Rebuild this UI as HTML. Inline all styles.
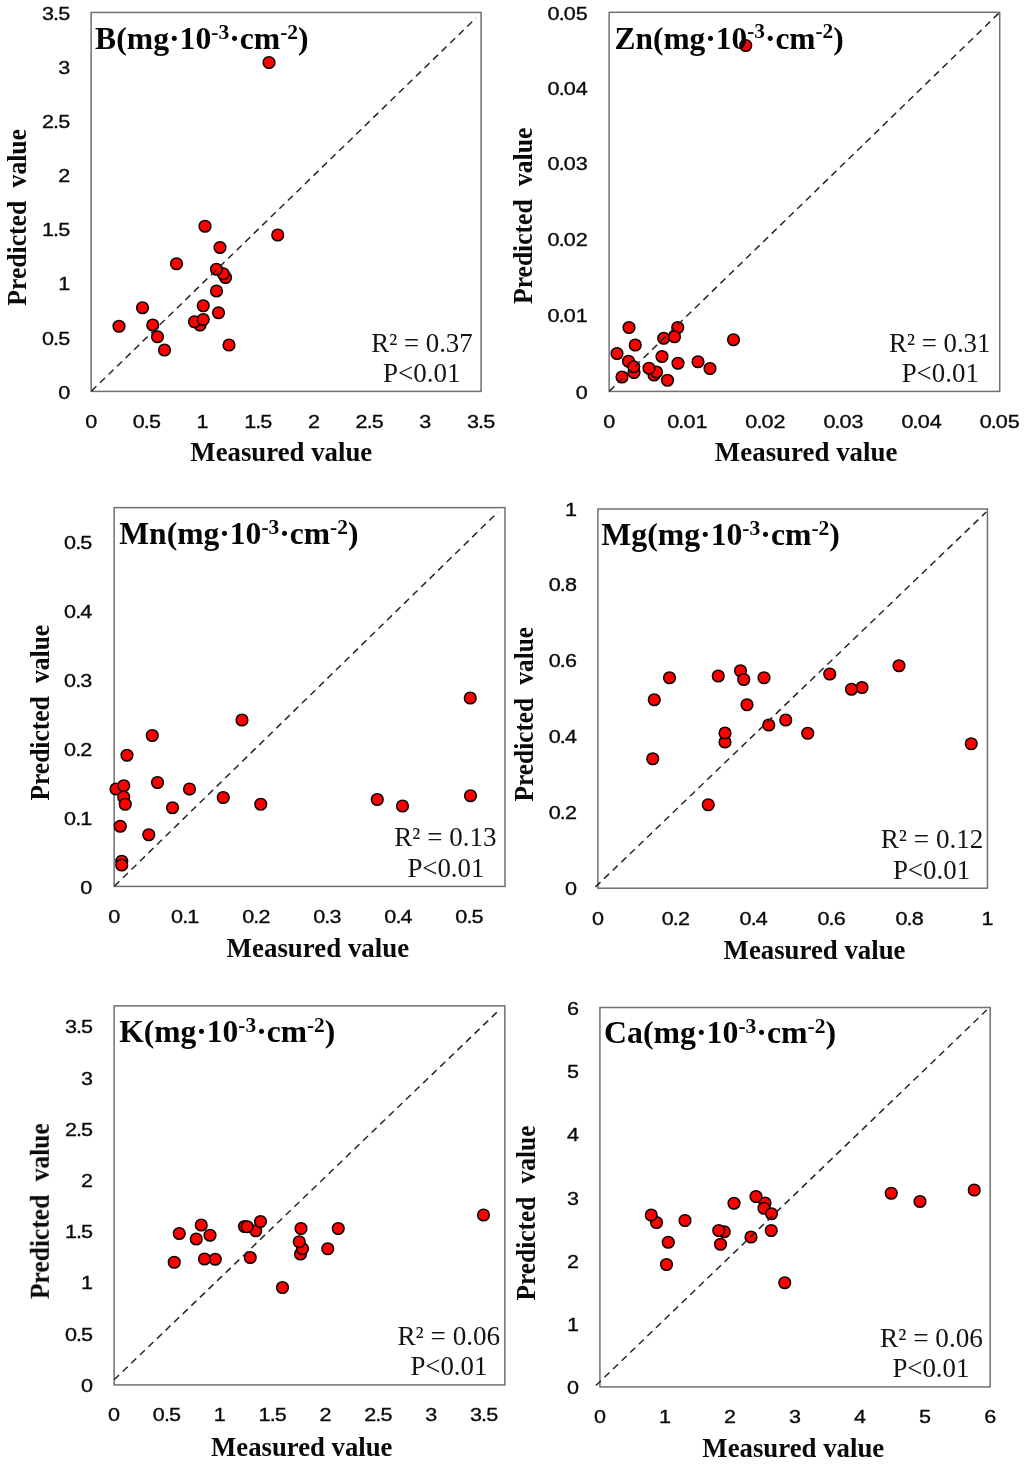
<!DOCTYPE html>
<html lang="en"><head><meta charset="utf-8"><title>Measured vs predicted element contents</title>
<style>html,body{margin:0;padding:0;background:#fff}svg{display:block}.tk{font-family:"Liberation Sans",Arial,Helvetica,sans-serif;font-size:18.3px;fill:#0a0a0a;stroke:#0a0a0a;stroke-width:0.32}.ax{font-family:"Liberation Serif","Times New Roman",Times,serif;font-weight:bold;font-size:27px;fill:#0a0a0a}.tt{font-family:"Liberation Serif","Times New Roman",Times,serif;font-weight:bold;font-size:31px;fill:#050505}.an{font-family:"Liberation Serif","Times New Roman",Times,serif;font-size:26.5px;fill:#141414}.bx{fill:none;stroke:#707070;stroke-width:1.5}.dg{stroke:#262626;stroke-width:1.5;stroke-dasharray:6.9 5.0;fill:none}.pt circle{fill:#ff0000;stroke:#0c0000;stroke-width:1.5}</style></head><body>
<svg width="1024" height="1465" viewBox="0 0 1024 1465">
<defs><filter id="soft" filterUnits="userSpaceOnUse" x="0" y="0" width="1024" height="1465" color-interpolation-filters="sRGB"><feGaussianBlur stdDeviation="0.42"/></filter></defs>
<rect x="0" y="0" width="1024" height="1465" fill="#ffffff"/>
<g filter="url(#soft)">
<g>
<rect class="bx" x="91.15" y="12.45" width="389.91" height="378.95"/>
<g class="pt">
<circle cx="269.00" cy="62.50" r="5.85"/>
<circle cx="205.00" cy="226.25" r="5.85"/>
<circle cx="277.75" cy="235.00" r="5.85"/>
<circle cx="220.00" cy="247.50" r="5.85"/>
<circle cx="176.50" cy="263.75" r="5.85"/>
<circle cx="225.50" cy="277.50" r="5.85"/>
<circle cx="223.25" cy="273.75" r="5.85"/>
<circle cx="216.50" cy="269.25" r="5.85"/>
<circle cx="216.50" cy="291.00" r="5.85"/>
<circle cx="142.50" cy="307.75" r="5.85"/>
<circle cx="203.25" cy="305.75" r="5.85"/>
<circle cx="218.50" cy="312.75" r="5.85"/>
<circle cx="119.00" cy="326.25" r="5.85"/>
<circle cx="152.75" cy="325.00" r="5.85"/>
<circle cx="200.00" cy="325.00" r="5.85"/>
<circle cx="194.50" cy="321.75" r="5.85"/>
<circle cx="203.25" cy="319.50" r="5.85"/>
<circle cx="157.50" cy="336.75" r="5.85"/>
<circle cx="164.50" cy="350.00" r="5.85"/>
<circle cx="229.00" cy="345.00" r="5.85"/>
</g>
<line class="dg" x1="91.45" y1="391.10" x2="476.00" y2="18.00"/>
<text class="tk" text-anchor="middle" transform="translate(91.15,427.60) scale(1.180,1)">0</text>
<text class="tk" text-anchor="end" transform="translate(70.15,398.70) scale(1.180,1)">0</text>
<text class="tk" text-anchor="middle" dx="0 -0.75 -0.75" transform="translate(146.85,427.60) scale(1.180,1)">0.5</text>
<text class="tk" text-anchor="end" dx="0 -0.75 -0.75" transform="translate(70.15,344.56) scale(1.180,1)">0.5</text>
<text class="tk" text-anchor="middle" transform="translate(202.55,427.60) scale(1.180,1)">1</text>
<text class="tk" text-anchor="end" transform="translate(70.15,290.43) scale(1.180,1)">1</text>
<text class="tk" text-anchor="middle" dx="0 -0.75 -0.75" transform="translate(258.25,427.60) scale(1.180,1)">1.5</text>
<text class="tk" text-anchor="end" dx="0 -0.75 -0.75" transform="translate(70.15,236.29) scale(1.180,1)">1.5</text>
<text class="tk" text-anchor="middle" transform="translate(313.96,427.60) scale(1.180,1)">2</text>
<text class="tk" text-anchor="end" transform="translate(70.15,182.16) scale(1.180,1)">2</text>
<text class="tk" text-anchor="middle" dx="0 -0.75 -0.75" transform="translate(369.66,427.60) scale(1.180,1)">2.5</text>
<text class="tk" text-anchor="end" dx="0 -0.75 -0.75" transform="translate(70.15,128.02) scale(1.180,1)">2.5</text>
<text class="tk" text-anchor="middle" transform="translate(425.36,427.60) scale(1.180,1)">3</text>
<text class="tk" text-anchor="end" transform="translate(70.15,73.89) scale(1.180,1)">3</text>
<text class="tk" text-anchor="middle" dx="0 -0.75 -0.75" transform="translate(481.06,427.60) scale(1.180,1)">3.5</text>
<text class="tk" text-anchor="end" dx="0 -0.75 -0.75" transform="translate(70.15,19.75) scale(1.180,1)">3.5</text>
<text class="tt" x="95.10" y="48.70" textLength="213.50" lengthAdjust="spacingAndGlyphs">B(mg·10<tspan dy="-10.2" font-size="21">-3</tspan><tspan dy="10.2">·cm</tspan><tspan dy="-10.2" font-size="21">-2</tspan><tspan dy="10.2">)</tspan></text>
<text class="ax" x="190.35" y="461.00" textLength="181.85" lengthAdjust="spacingAndGlyphs">Measured value</text>
<text class="ax" style="word-spacing:7.3px" transform="translate(26.40,305.70) rotate(-90)" textLength="176.70" lengthAdjust="spacingAndGlyphs">Predicted value</text>
<text class="an" x="371.25" y="351.65" textLength="101.45" lengthAdjust="spacingAndGlyphs">R² = 0.37</text>
<text class="an" x="382.90" y="381.65" textLength="77.50" lengthAdjust="spacingAndGlyphs">P&lt;0.01</text>
</g>
<g>
<rect class="bx" x="609.15" y="12.30" width="390.59" height="379.12"/>
<g class="pt">
<circle cx="745.75" cy="45.50" r="5.85"/>
<circle cx="629.00" cy="327.50" r="5.85"/>
<circle cx="677.75" cy="327.50" r="5.85"/>
<circle cx="663.75" cy="338.25" r="5.85"/>
<circle cx="674.50" cy="336.75" r="5.85"/>
<circle cx="635.25" cy="345.00" r="5.85"/>
<circle cx="733.50" cy="339.75" r="5.85"/>
<circle cx="617.00" cy="353.50" r="5.85"/>
<circle cx="662.00" cy="356.50" r="5.85"/>
<circle cx="628.50" cy="361.25" r="5.85"/>
<circle cx="678.00" cy="363.25" r="5.85"/>
<circle cx="698.00" cy="361.75" r="5.85"/>
<circle cx="710.00" cy="368.50" r="5.85"/>
<circle cx="634.00" cy="372.50" r="5.85"/>
<circle cx="633.75" cy="366.75" r="5.85"/>
<circle cx="654.00" cy="375.00" r="5.85"/>
<circle cx="656.50" cy="372.00" r="5.85"/>
<circle cx="649.00" cy="368.25" r="5.85"/>
<circle cx="622.00" cy="377.00" r="5.85"/>
<circle cx="667.50" cy="380.25" r="5.85"/>
</g>
<line class="dg" x1="609.45" y1="391.12" x2="999.00" y2="13.00"/>
<text class="tk" text-anchor="middle" transform="translate(609.15,427.62) scale(1.180,1)">0</text>
<text class="tk" text-anchor="end" transform="translate(587.75,398.72) scale(1.180,1)">0</text>
<text class="tk" text-anchor="middle" dx="0 -0.75 -0.75 0" transform="translate(687.27,427.62) scale(1.180,1)">0.01</text>
<text class="tk" text-anchor="end" dx="0 -0.75 -0.75 0" transform="translate(587.75,322.10) scale(1.180,1)">0.01</text>
<text class="tk" text-anchor="middle" dx="0 -0.75 -0.75 0" transform="translate(765.39,427.62) scale(1.180,1)">0.02</text>
<text class="tk" text-anchor="end" dx="0 -0.75 -0.75 0" transform="translate(587.75,246.27) scale(1.180,1)">0.02</text>
<text class="tk" text-anchor="middle" dx="0 -0.75 -0.75 0" transform="translate(843.50,427.62) scale(1.180,1)">0.03</text>
<text class="tk" text-anchor="end" dx="0 -0.75 -0.75 0" transform="translate(587.75,170.45) scale(1.180,1)">0.03</text>
<text class="tk" text-anchor="middle" dx="0 -0.75 -0.75 0" transform="translate(921.62,427.62) scale(1.180,1)">0.04</text>
<text class="tk" text-anchor="end" dx="0 -0.75 -0.75 0" transform="translate(587.75,94.62) scale(1.180,1)">0.04</text>
<text class="tk" text-anchor="middle" dx="0 -0.75 -0.75 0" transform="translate(999.74,427.62) scale(1.180,1)">0.05</text>
<text class="tk" text-anchor="end" dx="0 -0.75 -0.75 0" transform="translate(587.75,20.30) scale(1.180,1)">0.05</text>
<text class="tt" x="614.55" y="48.60" textLength="229.15" lengthAdjust="spacingAndGlyphs">Zn(mg·10<tspan dy="-10.2" font-size="21">-3</tspan><tspan dy="10.2">·cm</tspan><tspan dy="-10.2" font-size="21">-2</tspan><tspan dy="10.2">)</tspan></text>
<text class="ax" x="714.85" y="461.00" textLength="182.60" lengthAdjust="spacingAndGlyphs">Measured value</text>
<text class="ax" style="word-spacing:7.3px" transform="translate(532.30,304.00) rotate(-90)" textLength="176.30" lengthAdjust="spacingAndGlyphs">Predicted value</text>
<text class="an" x="889.00" y="351.65" textLength="101.45" lengthAdjust="spacingAndGlyphs">R² = 0.31</text>
<text class="an" x="901.65" y="381.65" textLength="77.25" lengthAdjust="spacingAndGlyphs">P&lt;0.01</text>
</g>
<g>
<rect class="bx" x="114.15" y="507.65" width="390.82" height="378.75"/>
<g class="pt">
<circle cx="242.00" cy="720.00" r="5.85"/>
<circle cx="152.25" cy="735.50" r="5.85"/>
<circle cx="127.00" cy="755.25" r="5.85"/>
<circle cx="116.00" cy="789.00" r="5.85"/>
<circle cx="123.75" cy="785.75" r="5.85"/>
<circle cx="157.50" cy="782.50" r="5.85"/>
<circle cx="189.50" cy="789.00" r="5.85"/>
<circle cx="223.25" cy="797.50" r="5.85"/>
<circle cx="260.75" cy="804.25" r="5.85"/>
<circle cx="123.75" cy="797.00" r="5.85"/>
<circle cx="125.25" cy="804.25" r="5.85"/>
<circle cx="172.50" cy="807.75" r="5.85"/>
<circle cx="120.25" cy="826.25" r="5.85"/>
<circle cx="148.75" cy="834.75" r="5.85"/>
<circle cx="121.75" cy="861.25" r="5.85"/>
<circle cx="121.75" cy="865.00" r="5.85"/>
<circle cx="377.25" cy="799.50" r="5.85"/>
<circle cx="402.50" cy="806.00" r="5.85"/>
<circle cx="470.50" cy="795.75" r="5.85"/>
<circle cx="470.25" cy="698.00" r="5.85"/>
</g>
<line class="dg" x1="114.45" y1="886.10" x2="498.00" y2="512.00"/>
<text class="tk" text-anchor="middle" transform="translate(114.15,922.60) scale(1.180,1)">0</text>
<text class="tk" text-anchor="end" transform="translate(92.35,893.70) scale(1.180,1)">0</text>
<text class="tk" text-anchor="middle" dx="0 -0.75 -0.75" transform="translate(185.21,922.60) scale(1.180,1)">0.1</text>
<text class="tk" text-anchor="end" dx="0 -0.75 -0.75" transform="translate(92.35,824.75) scale(1.180,1)">0.1</text>
<text class="tk" text-anchor="middle" dx="0 -0.75 -0.75" transform="translate(256.27,922.60) scale(1.180,1)">0.2</text>
<text class="tk" text-anchor="end" dx="0 -0.75 -0.75" transform="translate(92.35,755.80) scale(1.180,1)">0.2</text>
<text class="tk" text-anchor="middle" dx="0 -0.75 -0.75" transform="translate(327.32,922.60) scale(1.180,1)">0.3</text>
<text class="tk" text-anchor="end" dx="0 -0.75 -0.75" transform="translate(92.35,686.85) scale(1.180,1)">0.3</text>
<text class="tk" text-anchor="middle" dx="0 -0.75 -0.75" transform="translate(398.38,922.60) scale(1.180,1)">0.4</text>
<text class="tk" text-anchor="end" dx="0 -0.75 -0.75" transform="translate(92.35,617.89) scale(1.180,1)">0.4</text>
<text class="tk" text-anchor="middle" dx="0 -0.75 -0.75" transform="translate(469.44,922.60) scale(1.180,1)">0.5</text>
<text class="tk" text-anchor="end" dx="0 -0.75 -0.75" transform="translate(92.35,548.94) scale(1.180,1)">0.5</text>
<text class="tt" x="119.30" y="544.30" textLength="239.15" lengthAdjust="spacingAndGlyphs">Mn(mg·10<tspan dy="-10.2" font-size="21">-3</tspan><tspan dy="10.2">·cm</tspan><tspan dy="-10.2" font-size="21">-2</tspan><tspan dy="10.2">)</tspan></text>
<text class="ax" x="226.60" y="956.75" textLength="182.60" lengthAdjust="spacingAndGlyphs">Measured value</text>
<text class="ax" style="word-spacing:7.3px" transform="translate(48.80,800.60) rotate(-90)" textLength="175.80" lengthAdjust="spacingAndGlyphs">Predicted value</text>
<text class="an" x="394.25" y="846.15" textLength="102.20" lengthAdjust="spacingAndGlyphs">R² = 0.13</text>
<text class="an" x="407.40" y="876.65" textLength="77.00" lengthAdjust="spacingAndGlyphs">P&lt;0.01</text>
</g>
<g>
<rect class="bx" x="597.88" y="509.00" width="389.57" height="379.20"/>
<g class="pt">
<circle cx="669.50" cy="677.75" r="5.85"/>
<circle cx="718.25" cy="676.00" r="5.85"/>
<circle cx="740.50" cy="670.75" r="5.85"/>
<circle cx="743.75" cy="679.50" r="5.85"/>
<circle cx="764.00" cy="677.75" r="5.85"/>
<circle cx="829.75" cy="674.00" r="5.85"/>
<circle cx="862.00" cy="687.50" r="5.85"/>
<circle cx="851.50" cy="689.25" r="5.85"/>
<circle cx="899.00" cy="665.75" r="5.85"/>
<circle cx="654.25" cy="699.75" r="5.85"/>
<circle cx="747.00" cy="704.75" r="5.85"/>
<circle cx="768.75" cy="725.00" r="5.85"/>
<circle cx="785.75" cy="720.00" r="5.85"/>
<circle cx="807.75" cy="733.25" r="5.85"/>
<circle cx="725.00" cy="742.00" r="5.85"/>
<circle cx="725.00" cy="733.00" r="5.85"/>
<circle cx="652.75" cy="758.75" r="5.85"/>
<circle cx="708.25" cy="804.75" r="5.85"/>
<circle cx="971.25" cy="743.75" r="5.85"/>
</g>
<line class="dg" x1="595.50" y1="886.90" x2="986.25" y2="512.00"/>
<text class="tk" text-anchor="middle" transform="translate(597.88,924.90) scale(1.180,1)">0</text>
<text class="tk" text-anchor="end" transform="translate(576.88,894.80) scale(1.180,1)">0</text>
<text class="tk" text-anchor="middle" dx="0 -0.75 -0.75" transform="translate(675.79,924.90) scale(1.180,1)">0.2</text>
<text class="tk" text-anchor="end" dx="0 -0.75 -0.75" transform="translate(576.88,819.16) scale(1.180,1)">0.2</text>
<text class="tk" text-anchor="middle" dx="0 -0.75 -0.75" transform="translate(753.71,924.90) scale(1.180,1)">0.4</text>
<text class="tk" text-anchor="end" dx="0 -0.75 -0.75" transform="translate(576.88,743.22) scale(1.180,1)">0.4</text>
<text class="tk" text-anchor="middle" dx="0 -0.75 -0.75" transform="translate(831.62,924.90) scale(1.180,1)">0.6</text>
<text class="tk" text-anchor="end" dx="0 -0.75 -0.75" transform="translate(576.88,666.88) scale(1.180,1)">0.6</text>
<text class="tk" text-anchor="middle" dx="0 -0.75 -0.75" transform="translate(909.54,924.90) scale(1.180,1)">0.8</text>
<text class="tk" text-anchor="end" dx="0 -0.75 -0.75" transform="translate(576.88,591.24) scale(1.180,1)">0.8</text>
<text class="tk" text-anchor="middle" transform="translate(987.45,924.90) scale(1.180,1)">1</text>
<text class="tk" text-anchor="end" transform="translate(576.88,516.20) scale(1.180,1)">1</text>
<text class="tt" x="601.30" y="545.40" textLength="238.65" lengthAdjust="spacingAndGlyphs">Mg(mg·10<tspan dy="-10.2" font-size="21">-3</tspan><tspan dy="10.2">·cm</tspan><tspan dy="-10.2" font-size="21">-2</tspan><tspan dy="10.2">)</tspan></text>
<text class="ax" x="723.60" y="958.90" textLength="181.85" lengthAdjust="spacingAndGlyphs">Measured value</text>
<text class="ax" style="word-spacing:7.3px" transform="translate(532.80,801.40) rotate(-90)" textLength="174.40" lengthAdjust="spacingAndGlyphs">Predicted value</text>
<text class="an" x="880.75" y="848.40" textLength="102.70" lengthAdjust="spacingAndGlyphs">R² = 0.12</text>
<text class="an" x="892.90" y="878.65" textLength="77.25" lengthAdjust="spacingAndGlyphs">P&lt;0.01</text>
</g>
<g>
<rect class="bx" x="114.12" y="1005.90" width="390.73" height="379.00"/>
<g class="pt">
<circle cx="201.25" cy="1225.00" r="5.85"/>
<circle cx="179.25" cy="1233.50" r="5.85"/>
<circle cx="196.25" cy="1239.00" r="5.85"/>
<circle cx="210.00" cy="1235.25" r="5.85"/>
<circle cx="174.25" cy="1262.25" r="5.85"/>
<circle cx="215.25" cy="1259.25" r="5.85"/>
<circle cx="204.50" cy="1259.00" r="5.85"/>
<circle cx="255.75" cy="1230.75" r="5.85"/>
<circle cx="244.50" cy="1226.50" r="5.85"/>
<circle cx="247.25" cy="1226.75" r="5.85"/>
<circle cx="260.50" cy="1221.50" r="5.85"/>
<circle cx="250.25" cy="1257.50" r="5.85"/>
<circle cx="301.00" cy="1228.50" r="5.85"/>
<circle cx="338.25" cy="1228.50" r="5.85"/>
<circle cx="300.50" cy="1254.00" r="5.85"/>
<circle cx="302.50" cy="1248.75" r="5.85"/>
<circle cx="299.25" cy="1241.75" r="5.85"/>
<circle cx="327.75" cy="1248.75" r="5.85"/>
<circle cx="282.50" cy="1287.50" r="5.85"/>
<circle cx="483.50" cy="1215.00" r="5.85"/>
</g>
<line class="dg" x1="114.10" y1="1379.80" x2="499.75" y2="1009.50"/>
<text class="tk" text-anchor="middle" transform="translate(114.12,1420.70) scale(1.180,1)">0</text>
<text class="tk" text-anchor="end" transform="translate(93.12,1391.90) scale(1.180,1)">0</text>
<text class="tk" text-anchor="middle" dx="0 -0.75 -0.75" transform="translate(166.96,1420.70) scale(1.180,1)">0.5</text>
<text class="tk" text-anchor="end" dx="0 -0.75 -0.75" transform="translate(93.12,1340.68) scale(1.180,1)">0.5</text>
<text class="tk" text-anchor="middle" transform="translate(219.81,1420.70) scale(1.180,1)">1</text>
<text class="tk" text-anchor="end" transform="translate(93.12,1289.47) scale(1.180,1)">1</text>
<text class="tk" text-anchor="middle" dx="0 -0.75 -0.75" transform="translate(272.65,1420.70) scale(1.180,1)">1.5</text>
<text class="tk" text-anchor="end" dx="0 -0.75 -0.75" transform="translate(93.12,1238.25) scale(1.180,1)">1.5</text>
<text class="tk" text-anchor="middle" transform="translate(325.50,1420.70) scale(1.180,1)">2</text>
<text class="tk" text-anchor="end" transform="translate(93.12,1187.04) scale(1.180,1)">2</text>
<text class="tk" text-anchor="middle" dx="0 -0.75 -0.75" transform="translate(378.34,1420.70) scale(1.180,1)">2.5</text>
<text class="tk" text-anchor="end" dx="0 -0.75 -0.75" transform="translate(93.12,1135.82) scale(1.180,1)">2.5</text>
<text class="tk" text-anchor="middle" transform="translate(431.19,1420.70) scale(1.180,1)">3</text>
<text class="tk" text-anchor="end" transform="translate(93.12,1084.60) scale(1.180,1)">3</text>
<text class="tk" text-anchor="middle" dx="0 -0.75 -0.75" transform="translate(484.03,1420.70) scale(1.180,1)">3.5</text>
<text class="tk" text-anchor="end" dx="0 -0.75 -0.75" transform="translate(93.12,1033.39) scale(1.180,1)">3.5</text>
<text class="tt" x="119.30" y="1042.40" textLength="215.90" lengthAdjust="spacingAndGlyphs">K(mg·10<tspan dy="-10.2" font-size="21">-3</tspan><tspan dy="10.2">·cm</tspan><tspan dy="-10.2" font-size="21">-2</tspan><tspan dy="10.2">)</tspan></text>
<text class="ax" x="211.10" y="1455.50" textLength="181.35" lengthAdjust="spacingAndGlyphs">Measured value</text>
<text class="ax" style="word-spacing:7.3px" transform="translate(48.80,1299.10) rotate(-90)" textLength="175.80" lengthAdjust="spacingAndGlyphs">Predicted value</text>
<text class="an" x="397.50" y="1344.65" textLength="102.70" lengthAdjust="spacingAndGlyphs">R² = 0.06</text>
<text class="an" x="410.40" y="1375.40" textLength="77.00" lengthAdjust="spacingAndGlyphs">P&lt;0.01</text>
</g>
<g>
<rect class="bx" x="599.92" y="1007.50" width="390.23" height="379.40"/>
<g class="pt">
<circle cx="656.50" cy="1222.50" r="5.85"/>
<circle cx="651.25" cy="1215.00" r="5.85"/>
<circle cx="685.00" cy="1220.50" r="5.85"/>
<circle cx="668.25" cy="1242.25" r="5.85"/>
<circle cx="666.50" cy="1264.50" r="5.85"/>
<circle cx="734.00" cy="1203.25" r="5.85"/>
<circle cx="765.00" cy="1203.00" r="5.85"/>
<circle cx="756.00" cy="1196.50" r="5.85"/>
<circle cx="764.00" cy="1208.25" r="5.85"/>
<circle cx="771.50" cy="1213.75" r="5.85"/>
<circle cx="724.25" cy="1231.75" r="5.85"/>
<circle cx="718.75" cy="1230.50" r="5.85"/>
<circle cx="720.50" cy="1244.25" r="5.85"/>
<circle cx="751.00" cy="1237.00" r="5.85"/>
<circle cx="771.25" cy="1230.50" r="5.85"/>
<circle cx="784.75" cy="1282.75" r="5.85"/>
<circle cx="891.25" cy="1193.25" r="5.85"/>
<circle cx="920.00" cy="1201.50" r="5.85"/>
<circle cx="974.25" cy="1190.00" r="5.85"/>
</g>
<line class="dg" x1="595.90" y1="1385.50" x2="986.75" y2="1010.00"/>
<text class="tk" text-anchor="middle" transform="translate(599.92,1423.10) scale(1.180,1)">0</text>
<text class="tk" text-anchor="end" transform="translate(578.92,1394.20) scale(1.180,1)">0</text>
<text class="tk" text-anchor="middle" transform="translate(664.96,1423.10) scale(1.180,1)">1</text>
<text class="tk" text-anchor="end" transform="translate(578.92,1330.97) scale(1.180,1)">1</text>
<text class="tk" text-anchor="middle" transform="translate(730.00,1423.10) scale(1.180,1)">2</text>
<text class="tk" text-anchor="end" transform="translate(578.92,1267.73) scale(1.180,1)">2</text>
<text class="tk" text-anchor="middle" transform="translate(795.03,1423.10) scale(1.180,1)">3</text>
<text class="tk" text-anchor="end" transform="translate(578.92,1204.50) scale(1.180,1)">3</text>
<text class="tk" text-anchor="middle" transform="translate(860.07,1423.10) scale(1.180,1)">4</text>
<text class="tk" text-anchor="end" transform="translate(578.92,1141.27) scale(1.180,1)">4</text>
<text class="tk" text-anchor="middle" transform="translate(925.11,1423.10) scale(1.180,1)">5</text>
<text class="tk" text-anchor="end" transform="translate(578.92,1078.03) scale(1.180,1)">5</text>
<text class="tk" text-anchor="middle" transform="translate(990.15,1423.10) scale(1.180,1)">6</text>
<text class="tk" text-anchor="end" transform="translate(578.92,1014.80) scale(1.180,1)">6</text>
<text class="tt" x="604.05" y="1043.40" textLength="232.15" lengthAdjust="spacingAndGlyphs">Ca(mg·10<tspan dy="-10.2" font-size="21">-3</tspan><tspan dy="10.2">·cm</tspan><tspan dy="-10.2" font-size="21">-2</tspan><tspan dy="10.2">)</tspan></text>
<text class="ax" x="702.35" y="1456.75" textLength="181.85" lengthAdjust="spacingAndGlyphs">Measured value</text>
<text class="ax" style="word-spacing:7.3px" transform="translate(534.90,1300.60) rotate(-90)" textLength="175.10" lengthAdjust="spacingAndGlyphs">Predicted value</text>
<text class="an" x="880.00" y="1347.15" textLength="102.95" lengthAdjust="spacingAndGlyphs">R² = 0.06</text>
<text class="an" x="892.40" y="1377.40" textLength="77.00" lengthAdjust="spacingAndGlyphs">P&lt;0.01</text>
</g>
</g>
</svg></body></html>
